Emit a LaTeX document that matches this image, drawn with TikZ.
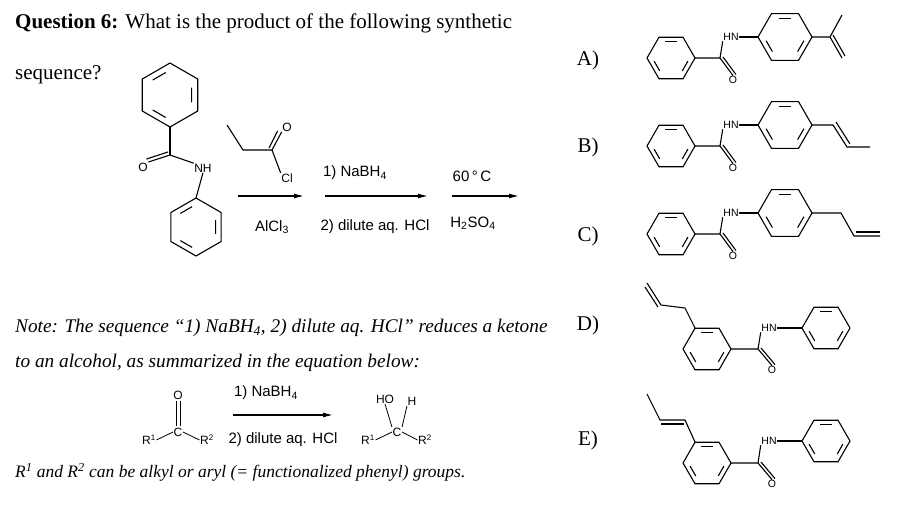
\documentclass[tikz,border=0pt]{standalone}
\usepackage{fontspec}
\usetikzlibrary{calc,arrows.meta}
\setmainfont{Liberation Serif}
\newfontfamily\chemf{Liberation Sans}
\newcommand{\benz}[4]{%
  \begin{scope}[shift={(#1,#2)},rotate=#4]
  \draw[bond] (0:#3)--(60:#3)--(120:#3)--(180:#3)--(240:#3)--(300:#3)--cycle;
  \foreach \a in {0,120,240}{\draw[bond] ($(0,0)!0.78!($(\a:#3)!0.2!(\a+60:#3)$)$)--($(0,0)!0.78!($(\a:#3)!0.8!(\a+60:#3)$)$);}
  \end{scope}}
\begin{document}
\begin{tikzpicture}[x=1pt,y=-1pt,
  bond/.style={line width=1.1pt},
  lbl/.style={font=\chemf\fontsize{10.5}{11}\selectfont,inner sep=0.5pt},
  slbl/.style={font=\chemf\fontsize{12}{13}\selectfont,inner sep=0.5pt},
  rlbl/.style={font=\chemf\fontsize{15}{16}\selectfont,inner sep=1pt},
  txt/.style={font=\fontsize{21}{23}\selectfont,anchor=west,inner sep=0},
  note/.style={font=\itshape\fontsize{19.3}{21}\selectfont,anchor=west,inner sep=0},
  ans/.style={font=\fontsize{21}{23}\selectfont,inner sep=0},
  rarr/.style={line width=1.2pt,-{Latex[length=10pt,width=5pt]}}]
\useasboundingbox (0,0) rectangle (921,530);
\fill[white] (0,0) rectangle (921,530);
% texts
\node[txt] (q) at (15,23) {\textbf{Question 6:} What is the product of the following synthetic};
\node[txt] (q2) at (15,75) {sequence?};
\node[note] (n1) at (15,328) {Note: The sequence ``1) NaBH\textsubscript{4}, 2) dilute aq. HCl'' reduces a ketone};
\node[note] (n2) at (15,363) {to an alcohol, as summarized in the equation below:};
\node[note,font=\itshape\fontsize{17.5}{19}\selectfont] (n3) at (15,472) {R\textsuperscript{1} and R\textsuperscript{2} can be alkyl or aryl (= functionalized phenyl) groups.};
% starting material
\benz{170}{95}{32}{30}
\coordinate (c1) at (170,155);
\draw[bond] (170,127)--(c1);
\node[slbl] (o1) at (143,167) {O};
\node[slbl] (nh) at (203,168) {NH};
\draw[bond] (c1)--(o1.north east);
\draw[bond] ($(c1)+(-2,-3)$)--($(o1.north east)+(-2,-3)$);
\draw[bond] (c1)--(nh.north west);
\benz{196}{227}{29}{30}
\draw[bond] (nh.south)--(196,198);
% acid chloride
\node[slbl] (o2) at (287,127) {O};
\node[slbl] (cl) at (287,178) {Cl};
\coordinate (ca) at (272,150);
\draw[bond] (227,125)--(243,150)--(ca)--(o2.south west);
\draw[bond] ($(ca)+(-3,-2)$)--($(o2.south west)+(-4,-1)$);
\draw[bond] (ca)--(cl.north west);
% arrows
\coordinate (a1s) at (238,196); \coordinate (a1e) at (304,196);
\coordinate (a2s) at (325,196); \coordinate (a2e) at (428,196);
\coordinate (a3s) at (452,196); \coordinate (a3e) at (519,196);
\draw[rarr] (a1s)--(a1e);
\draw[rarr] (a2s)--(a2e);
\draw[rarr] (a3s)--(a3e);
\node[rlbl] (alcl) at (272,227) {AlCl\textsubscript{3}};
\node[rlbl] (r1) at (355,173) {1) NaBH\textsubscript{4}};
\node[rlbl] (r2) at (375,227) {2) dilute aq. HCl};
\node[rlbl] (t) at (472,176) {60\,\textdegree\,C};
\node[rlbl] (h2) at (473,223) {H\textsubscript{2}SO\textsubscript{4}};
% equation
\node[slbl] (eo) at (178,395) {O};
\node[slbl] (ec) at (178,432) {C};
\node[slbl] (er1) at (149,440) {R\textsuperscript{1}};
\node[slbl] (er2) at (207,440) {R\textsuperscript{2}};
\draw[bond,line width=0.8pt] (176,401)--(176,426) (180,401)--(180,426);
\draw[bond,line width=0.8pt] (er1.east)--(ec.west) (ec.east)--(er2.west);
\draw[rarr] (233,415)--(333,415);
\node[rlbl] (e1) at (266,393) {1) NaBH\textsubscript{4}};
\node[rlbl] (e2) at (283,440) {2) dilute aq. HCl};
\node[slbl] (pho) at (385,399) {HO};
\node[slbl] (ph) at (412,401) {H};
\node[slbl] (pc) at (397,432) {C};
\node[slbl] (pr1) at (368,440) {R\textsuperscript{1}};
\node[slbl] (pr2) at (425,440) {R\textsuperscript{2}};
\draw[bond,line width=0.8pt] (pho.south)--(pc.north west) (ph.south west)--(pc.north east) (pr1.east)--(pc.west) (pc.east)--(pr2.west);
% answer labels
\node[ans] (la) at (588,60) {A)};
\node[ans] (lb) at (588,147) {B)};
\node[ans] (lc) at (588,236) {C)};
\node[ans] (ld) at (588,325) {D)};
\node[ans] (le) at (588,440) {E)};
% A, B, C (para)
\foreach \dy/\nm in {0/A,88/B,176/C}{
  \benz{671}{58+\dy}{24}{0}
  \node[lbl] (hn\nm) at (731,37+\dy) {HN};
  \node[lbl] (o\nm) at (733,80+\dy) {O};
  \draw[bond] (695,58+\dy)--(720,58+\dy)--(hn\nm.south west);
  \draw[bond] (720,58+\dy)--(o\nm.north);
  \draw[bond] (723,57+\dy)--($(o\nm.north)+(3,-1)$);
  \benz{785}{37+\dy}{27}{0}
  \draw[bond] (hn\nm.east)--(758,37+\dy);
}
\draw[bond] (812,37)--(830,37)--(842,15);
\draw[bond] (830,37)--(842,58) (833,35)--(845,56);
\draw[bond] (812,125)--(833,125)--(847,147)--(870,147);
\draw[bond] (836,122)--(850,144);
\draw[bond] (812,213)--(841,213)--(854,236)--(880,236);
\draw[bond] (856,232)--(880,232);
% D, E (meta)
\foreach \y/\nm/\py in {349/D/328,463/E/441}{
  \benz{707}{\y}{24}{0}
  \node[lbl] (hn\nm) at (769,\py) {HN};
  \node[lbl] (o\nm) at (772,\y+21) {O};
  \draw[bond] (731,\y)--(758,\y)--(hn\nm.south west);
  \draw[bond] (758,\y)--(o\nm.north);
  \draw[bond] (761,\y-1)--($(o\nm.north)+(3,-1)$);
  \benz{826}{\py}{24}{0}
  \draw[bond] (hn\nm.east)--(802,\py);
}
\draw[bond] (695,328)--(685,308)--(661,305)--(647,283);
\draw[bond] (658,307)--(645,287);
\draw[bond] (695,442)--(685,420)--(660,420)--(647,394);
\draw[bond] (684,424)--(661,424);
\end{tikzpicture}
\end{document}
